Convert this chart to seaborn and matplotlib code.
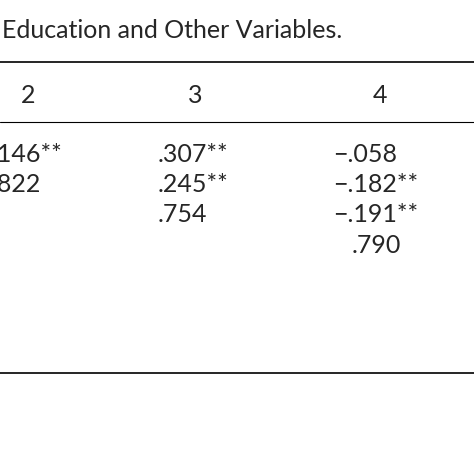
import matplotlib.pyplot as plt
import seaborn as sns

sns.set_style("white")
plt.rcParams['font.family'] = ['Lato', 'DejaVu Sans']

title = "Education and Other Variables."
headers = ["2", "3", "4"]
col2 = [".146**", ".822", "", ""]
col3 = [".307**", ".245**", ".754", ""]
col4 = ["\u2212.058", "\u2212.182**", "\u2212.191**", ".790"]

fig = plt.figure(figsize=(4.74, 4.74), dpi=100)
ax = fig.add_axes([0, 0, 1, 1])
ax.set_xlim(0, 474)
ax.set_ylim(474, 0)
ax.axis("off")

fs = 18
ax.text(2, 30, title, fontsize=fs, va="center", ha="left")
ax.axhline(62, color="black", lw=1.2)
ax.axhline(122, color="black", lw=0.8)
ax.axhline(373, color="black", lw=1.2)

for x, h in zip([28, 195, 380], headers):
    ax.text(x, 95, h, fontsize=fs, va="center", ha="center")

row_y = [155, 185, 215, 245]
col_x = [-8, 158, 333]
for x, col in zip(col_x, [col2, col3, col4]):
    for y, v in zip(row_y, col):
        if not v:
            continue
        dx = 19 if (v.startswith(".") and x == 333) else 0
        ax.text(x + dx, y, v, fontsize=fs, va="center", ha="left",
                family=['DejaVu Sans'] if False else None)

fig.savefig("out.png", dpi=100)
